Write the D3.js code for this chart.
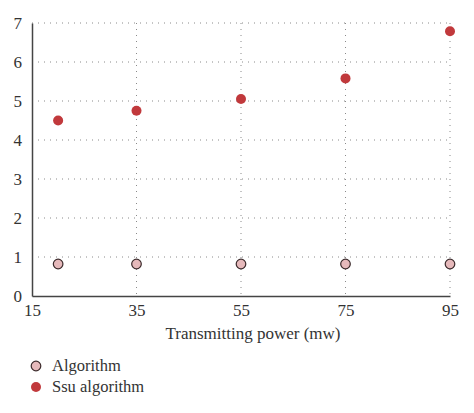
<!DOCTYPE html>
<html>
<head>
<meta charset="utf-8">
<script src="https://cdn.jsdelivr.net/npm/d3@7"></script>
<style>
  body { margin: 0; background: #fff; }
  svg text { font-family: "Liberation Serif", "DejaVu Serif", serif; fill: #333; }
</style>
</head>
<body>
<svg width="474" height="413"></svg>
<script>
// data
const power = [20, 35, 55, 75, 95];
const algorithm = [0.82, 0.82, 0.82, 0.82, 0.82];
const ssuAlgorithm = [4.5, 4.75, 5.05, 5.58, 6.79];
const xTicks = [15, 35, 55, 75, 95];
const yTicks = [0, 1, 2, 3, 4, 5, 6, 7];
const seriesNames = ["Algorithm", "Ssu algorithm"];

const svg = d3.select("svg");
const margin = { top: 23, right: 24, bottom: 117, left: 32 };
const width = +svg.attr("width") - margin.left - margin.right;
const height = +svg.attr("height") - margin.top - margin.bottom;
const g = svg.append("g").attr("transform", `translate(${margin.left},${margin.top})`);

const x = d3.scaleLinear().domain([15, 95]).range([0, width]);
const y = d3.scaleLinear().domain([0, 7]).range([height, 0]);

// dotted grid
g.selectAll(".hgrid").data(yTicks.filter(d => d > 0)).enter().append("line")
    .attr("x1", 0).attr("x2", width)
    .attr("y1", d => y(d)).attr("y2", d => y(d))
    .attr("stroke", "#8a8a8a").attr("stroke-width", 1)
    .attr("stroke-dasharray", "1,5");
g.selectAll(".vgrid").data(xTicks.filter(d => d > 15)).enter().append("line")
    .attr("x1", d => x(d)).attr("x2", d => x(d))
    .attr("y1", 0).attr("y2", height)
    .attr("stroke", "#8a8a8a").attr("stroke-width", 1)
    .attr("stroke-dasharray", "1,5");

// axes
const xAxis = g.append("g")
    .attr("transform", `translate(0,${height})`)
    .call(d3.axisBottom(x).tickValues(xTicks).tickFormat(d3.format("d")).tickSize(0).tickPadding(8));
const yAxis = g.append("g")
    .call(d3.axisLeft(y).tickValues(yTicks).tickFormat(d3.format("d")).tickSize(0).tickPadding(10));
[xAxis, yAxis].forEach(a => {
    a.select(".domain").attr("stroke", "#444").attr("stroke-width", 1.5);
    a.selectAll("text").attr("font-size", 17).attr("fill", "#333")
        .attr("font-family", "Liberation Serif, DejaVu Serif, serif");
});

g.append("text")
    .attr("x", width / 2 + 12).attr("y", height + 43)
    .attr("text-anchor", "middle")
    .attr("font-size", 17)
    .text("Transmitting power (mw)");

// points
g.selectAll(".alg").data(power).enter().append("circle")
    .attr("cx", d => x(d))
    .attr("cy", (d, i) => y(algorithm[i]))
    .attr("r", 4.8)
    .attr("fill", "#e6b9bb")
    .attr("stroke", "#3b2a2b").attr("stroke-width", 1.2);
g.selectAll(".ssu").data(power).enter().append("circle")
    .attr("cx", d => x(d))
    .attr("cy", (d, i) => y(ssuAlgorithm[i]))
    .attr("r", 5)
    .attr("fill", "#c1393c");

// legend
const legend = svg.append("g").attr("transform", "translate(36,366)");
seriesNames.forEach((name, i) => {
    const row = legend.append("g").attr("transform", `translate(0,${i * 21})`);
    if (i === 0) {
        row.append("circle").attr("r", 4.8).attr("fill", "#e6b9bb")
            .attr("stroke", "#3b2a2b").attr("stroke-width", 1.2);
    } else {
        row.append("circle").attr("r", 5).attr("fill", "#c1393c");
    }
    row.append("text").attr("x", 16).attr("y", 5)
        .attr("font-size", 16.5).text(name);
});
</script>
</body>
</html>
